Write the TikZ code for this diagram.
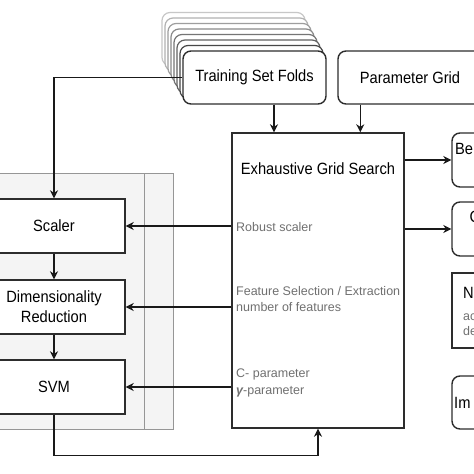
\documentclass[tikz,border=0pt]{standalone}
\usepackage{fontspec}
\setmainfont{Liberation Sans}
\newfontfamily\tfam[FakeStretch=0.9]{Liberation Sans}
\usetikzlibrary{arrows.meta,calc}
\definecolor{lblgray}{RGB}{112,112,112}
\definecolor{linec}{RGB}{25,25,25}
\definecolor{boxc}{RGB}{45,45,45}
\definecolor{panelfill}{RGB}{244,244,244}
\definecolor{panelline}{RGB}{150,150,150}
\begin{document}
\begin{tikzpicture}[x=1pt,y=-1pt,
  sbox/.style={draw=boxc,line width=1.4pt,fill=white,inner sep=0pt},
  rbox/.style={sbox,rounded corners=8pt},
  ttl/.style={font=\tfam\fontsize{16.3}{20}\selectfont,text=black},
  lbl/.style={font=\fontsize{12.5}{16}\selectfont,text=lblgray,inner sep=0pt,anchor=base west},
  arr/.style={draw=linec,line width=1.3pt,-{Stealth[length=8pt,width=8pt,inset=2.5pt]}},
  con/.style={draw=linec,line width=1.3pt}]
\useasboundingbox (0,0) rectangle (474,474);
\clip (0,0) rectangle (474,474);
\fill[white] (0,0) rectangle (474,474);
% pipeline panel
\draw[fill=panelfill,draw=panelline,line width=1pt] (-5,173) rectangle (173,429);
\draw[panelline,line width=1pt] (144,173) -- (144,429);
% stacked folds
\foreach \k/\c in {7/22,6/30,5/38,4/46,3/54,2/62,1/72}{
  \draw[rounded corners=8pt,draw=black!\c,line width=1.2pt,fill=white]
    ({183-3*\k},{104-5.5*\k}) rectangle ({326-3*\k},{51-5.5*\k});
}
\node[rbox,ttl,minimum width=143pt,minimum height=53pt] (tsf) at (254.5,77.5) {Training Set Folds};
\node[rbox,ttl,minimum width=144pt,minimum height=53pt] (pg) at (410,77.5) {Parameter Grid};
% grid search
\node[sbox,minimum width=172pt,minimum height=295pt] (egs) at (318,280.5) {};
\node[ttl,anchor=base,inner sep=0pt] (egst) at (318,174) {Exhaustive Grid Search};
\node[lbl] (l1) at (236,231) {Robust scaler};
\node[lbl] (l2) at (236,295) {Feature Selection / Extraction};
\node[lbl] (l3) at (236,311) {number of features};
\node[lbl] (l4) at (236,377) {C- parameter};
\node[lbl] (l5) at (236,394) {{\bfseries\itshape γ}-parameter};
% pipeline steps
\node[sbox,ttl,minimum width=142pt,minimum height=54pt] (scaler) at (54,226) {Scaler};
\node[sbox,ttl,minimum width=142pt,minimum height=54pt,align=center] (dr) at (54,307) {Dimensionality\\Reduction};
\node[sbox,ttl,minimum width=142pt,minimum height=54pt] (svm) at (54,387) {SVM};
% right boxes
\node[rbox,minimum width=108pt,minimum height=54pt] (r1) at (506,160) {};
\node[rbox,minimum width=108pt,minimum height=54pt] (r2) at (506,229) {};
\node[sbox,minimum width=108pt,minimum height=75pt] (r3) at (506,310.5) {};
\node[rbox,minimum width=108pt,minimum height=53pt] (r4) at (506,402.5) {};
\node[ttl,anchor=base west,inner sep=0pt] (t1) at (455,154) {Be};
\node[ttl,anchor=base west,inner sep=0pt] (t2) at (469.5,222) {C};
\node[ttl,anchor=base west,inner sep=0pt] (t3) at (463,298.5) {N};
\node[lbl] (t4) at (463,320) {ac};
\node[lbl] (t5) at (463,335) {de};
\node[ttl,anchor=base west,inner sep=0pt] (t6) at (454,408) {Im};
% connectors
\coordinate (ta) at ([xshift=19.5pt]tsf.south);
\coordinate (pa) at ([xshift=23pt]pg.south west);
\draw[arr] (ta) -- (ta |- egs.north);
\draw[arr] (pa) -- (pa |- egs.north);
\draw[arr] (tsf.west) -| (scaler.north);
\draw[arr] (scaler.south) -- (dr.north);
\draw[arr] (dr.south) -- (svm.north);
\draw[arr] (svm.south) -- ++(0,41) -| (egs.south);
\draw[arr] (scaler.east -| egs.west) -- (scaler.east);
\draw[arr] (dr.east -| egs.west) -- (dr.east);
\draw[arr] (svm.east -| egs.west) -- (svm.east);
\draw[arr] (r1.west -| egs.east) -- (r1.west);
\draw[arr] (r2.west -| egs.east) -- (r2.west);
\end{tikzpicture}
\end{document}
